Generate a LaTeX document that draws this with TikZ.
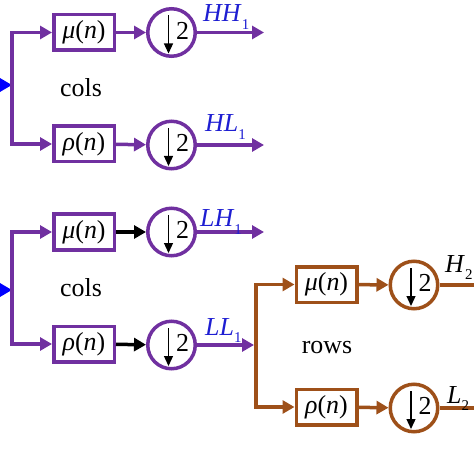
\documentclass[tikz,border=0pt]{standalone}
\usepackage{fontspec}
\setmainfont{Liberation Serif}
\newfontfamily\tms{Liberation Serif}
\usetikzlibrary{arrows.meta}
\definecolor{pur}{RGB}{112,48,160}
\definecolor{brn}{RGB}{158,80,25}
\definecolor{lblue}{RGB}{30,30,210}
\newcommand{\lbl}[2]{\textit{#1}\raisebox{-0.28em}{\fontsize{15}{15}\selectfont #2}}
\begin{document}
\begin{tikzpicture}[x=1bp,y=-1bp,font=\tms\fontsize{26}{30}\selectfont,
  box/.style={draw=#1,line width=3.5bp,minimum width=60.5bp,minimum height=35.5bp,inner sep=0pt,fill=white,text=black},
  dn/.style={draw=#1,circle,line width=3.5bp,minimum size=47.5bp,inner sep=0pt},
  wire/.style={line width=3.5bp},
  arr/.style={wire,-{Triangle[length=12bp,width=13bp]}},
  dnarr/.style={line width=1.3bp,-{Triangle[length=10bp,width=9bp]}},
  inarr/.style={blue,line width=3bp,-{Triangle[length=12bp,width=13bp]}},
  lab/.style={anchor=base west,inner sep=0pt,text=lblue},
  lab2/.style={anchor=base west,inner sep=0pt,text=black},
  txt/.style={anchor=base,inner sep=0pt}]
\useasboundingbox (0,0) rectangle (474,474);
% group 1
\node[box=pur] (mu1) at (84,32.5) {\textit{μ}(\textit{n})};
\node[dn=pur] (d1) at (171.5,32.5) {};
\node[box=pur] (rho1) at (84,144) {\textit{ρ}(\textit{n})};
\node[dn=pur] (d2) at (171.5,145) {};
\coordinate (in1) at (-20,85);
\coordinate (b1) at (12,85);
\coordinate (o1) at (264,32.5);
\coordinate (o2) at (264,145);
\draw[inarr] (in1) -- (b1);
\draw[arr,pur] (b1) |- (mu1);
\draw[arr,pur] (b1) |- (rho1);
\draw[arr,pur] (mu1) -- (d1);
\draw[arr,pur] (rho1) -- (d2);
\draw[arr,pur] (d1) -- (o1);
\draw[arr,pur] (d2) -- (o2);
\node[txt] (cols1) at (81,97) {cols};
\node[lab] (HH) at (203,22) {\lbl{HH}{1}};
\node[lab] (HL) at (205,132) {\lbl{HL}{1}};
% group 2
\node[box=pur] (mu2) at (84,232) {\textit{μ}(\textit{n})};
\node[dn=pur] (d3) at (171.5,232) {};
\node[box=pur] (rho2) at (84,344) {\textit{ρ}(\textit{n})};
\node[dn=pur] (d4) at (171.5,345) {};
\coordinate (in2) at (-20,290);
\coordinate (b2) at (12,290);
\coordinate (o3) at (264,232);
\coordinate (b3) at (256,345);
\draw[inarr] (in2) -- (b2);
\draw[arr,pur] (b2) |- (mu2);
\draw[arr,pur] (b2) |- (rho2);
\draw[arr,black] (mu2) -- (d3);
\draw[arr,black] (rho2) -- (d4);
\draw[arr,pur] (d3) -- (o3);
\node[txt] (cols2) at (81,296) {cols};
\node[lab] (LH) at (200,227) {\lbl{LH}{1}};
\node[lab] (LL) at (205,335) {\lbl{LL}{1}};
% group 3
\node[box=brn] (mu3) at (326.5,284.5) {\textit{μ}(\textit{n})};
\node[dn=brn] (d5) at (414,285) {};
\node[box=brn] (rho3) at (326.5,407) {\textit{ρ}(\textit{n})};
\node[dn=brn] (d6) at (414,408) {};
\coordinate (o5) at (490,285);
\coordinate (o6) at (490,408);
\draw[arr,brn] (b3) |- (mu3);
\draw[arr,brn] (b3) |- (rho3);
\draw[arr,pur,shorten >=2bp] (d4) -- (b3);
\draw[arr,brn] (mu3) -- (d5);
\draw[arr,brn] (rho3) -- (d6);
\draw[wire,brn] (d5) -- (o5);
\draw[wire,brn] (d6) -- (o6);
\node[txt] (rows) at (327,353) {rows};
\node[lab2] (H2) at (445,272) {\lbl{H}{2}};
\node[lab2] (L2) at (447,403) {\lbl{L}{2}};
% down-sampling arrows
\foreach \c in {d1,d2,d3,d4,d5,d6}{
  \draw[dnarr] ([shift={(-3,-17)}]\c.center) -- ([shift={(-3,21)}]\c.center);
  \node[inner sep=0pt] (\c-two) at ([shift={(11,-2)}]\c.center) {2};
}
\end{tikzpicture}
\end{document}
